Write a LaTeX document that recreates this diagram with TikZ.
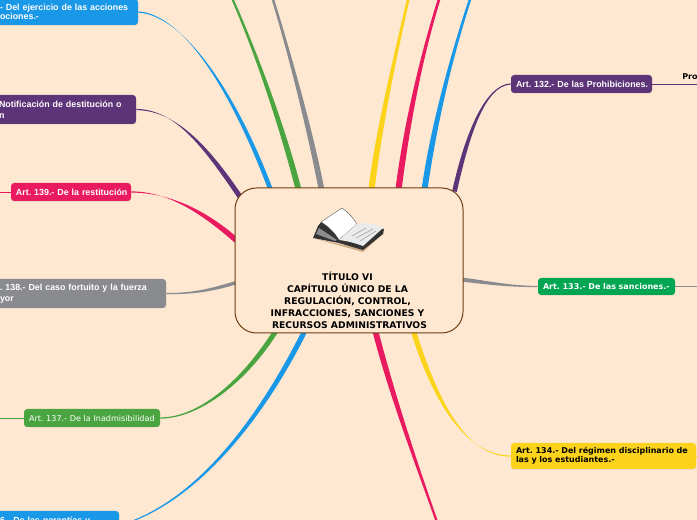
\documentclass[tikz,border=0pt]{standalone}
\usepackage{fontspec}
\setmainfont{Liberation Sans}
\newfontfamily\djfont{DejaVu Sans}
\usetikzlibrary{calc,shadows}
\definecolor{bgc}{HTML}{FEE8D1}
\definecolor{cblue}{HTML}{1A98E8}
\definecolor{cpurple}{HTML}{5E3478}
\definecolor{cpink}{HTML}{E91A5F}
\definecolor{cgray}{HTML}{8A8B8F}
\definecolor{cgreen}{HTML}{4AA540}
\definecolor{cgreenb}{HTML}{00A651}
\definecolor{cyellow}{HTML}{FBD31B}
\definecolor{cbrown}{HTML}{6B3F10}
\pgfdeclarelayer{bglayer}
\pgfdeclarelayer{connlayer}
\pgfsetlayers{bglayer,connlayer,main}
\tikzset{
  mapbox/.style={rounded corners=2.4pt,inner xsep=3.75pt,inner ysep=0pt,align=left,
    drop shadow={shadow xshift=0pt,shadow yshift=-0.5pt,opacity=.18}},
  arialtext/.style={font=\fontsize{6.65}{#1}\selectfont\bfseries\frenchspacing},
  djtext/.style={font=\fontsize{6}{#1}\djfont\bfseries\frenchspacing},
  djlight/.style={font=\fontsize{6.05}{#1}\djfont\frenchspacing},
  thinline/.style={line width=0.6pt},
  titletext/.style={font=\fontsize{6.9}{9}\djfont\bfseries,align=center,text=black,inner sep=0pt}
}
% name, left, top, right, bottom, colour, text colour, font style, text
\newcommand{\mapnode}[9]{%
  \pgfmathsetmacro{\mw}{(#4-(#2))*0.75}%
  \pgfmathsetmacro{\mh}{(#5-(#3))*0.75}%
  \pgfmathsetmacro{\mtw}{\mw-7.5}%
  \node[mapbox,fill=#6,text=#7,#8,text width=\mtw pt,minimum height=\mh pt] (#1)
    at ({(#2+#4)/2},{(#3+#5)/2}) {#9};%
}
% colour, A, c1, c2, B, half width vector at A, at B
\newcommand{\taper}[7]{%
  \begin{pgfonlayer}{connlayer}
  \fill[#1] ($#2+#6$) .. controls ($#3+#6$) and ($#4+#7$) .. ($#5+#7$)
     -- ($#5-#7$) .. controls ($#4-#7$) and ($#3-#6$) .. ($#2-#6$) -- cycle;
  \end{pgfonlayer}%
}
\begin{document}
\begin{tikzpicture}[x=0.75pt,y=-0.75pt]
\useasboundingbox (0,0) rectangle (697,520);
\begin{pgfonlayer}{bglayer}
\fill[bgc] (0,0) rectangle (697,520);
\end{pgfonlayer}
% centre
\node[draw=cbrown,fill=bgc,line width=0.75pt,rounded corners=16pt,minimum width=171pt,minimum height=108.75pt,inner sep=0pt] (c) at (349,260.5) {};
\node[titletext] (t) at (347.5,300) {TÍTULO VI\\CAPÍTULO ÚNICO DE LA\\REGULACIÓN, CONTROL,\\INFRACCIONES, SANCIONES Y\\\hspace{3pt}RECURSOS ADMINISTRATIVOS};
% book
\fill[black!15!brown!50!bgc] (316,239) -- (363,252) -- (385,232) -- (363,249) -- cycle;
\fill[black!80] (313,238) -- (318,226) -- (322,221) -- (340,238) -- (358,224) -- (384,229) -- (383,234) -- (363,250) -- (339,243) -- cycle;
\fill[black!45] (316,234) -- (319,228) -- (337,240) -- (335,241) -- cycle;
\fill[white] (321,222) -- (342,208) .. controls (349,213) and (354,219) .. (357,224) -- (339,240) .. controls (335,233) and (329,227) .. (321,222) -- cycle;
\draw[black!70,line width=0.3pt] (321,222) -- (342,208) .. controls (349,213) and (354,219) .. (357,224) -- (339,240) .. controls (335,233) and (329,227) .. (321,222) -- cycle;
\fill[white!92!black] (339,240) -- (357,224) .. controls (367,222) and (376,224) .. (383,228) -- (363,246) .. controls (355,243) and (347,241) .. (339,240) -- cycle;
\draw[black!35,line width=0.5pt] (352,236) -- (366,228) (356,238) -- (373,229) (360,241) -- (376,231);
% boxes
\mapnode{a}{-5}{-1}{138}{25}{cblue}{white}{arialtext=6.75}{- Del ejercicio de las acciones\\ociones.-}
\mapnode{b}{-6}{95}{136}{124}{cpurple}{white}{arialtext=8.25}{Notificación de destitución o\\n}
\mapnode{d}{11}{183}{131}{201}{cpink}{white}{arialtext=8.25}{\mbox{Art. 139.- De la restitución}}
\mapnode{e}{-5}{279}{166}{308}{cgray}{white}{arialtext=8.25}{. 138.- Del caso fortuito y la fuerza\\yor}
\mapnode{f}{24}{409}{160}{427}{cgreen}{white}{djlight=8.25}{\mbox{Art. 137.- De la Inadmisibilidad}}
\mapnode{g}{-5}{511}{119}{540}{cblue}{white}{arialtext=8.25}{6.- De las garantías y\\\mbox{}}
\mapnode{h}{511}{75}{652}{93}{cpurple}{white}{arialtext=8.25}{\mbox{Art. 132.- De las Prohibiciones.}}
\mapnode{i}{538}{278}{675}{295}{cgreenb}{white}{djtext=8.25}{\mbox{Art. 133.- De las sanciones.-}}
\mapnode{j}{511}{443}{696}{469}{cyellow}{black}{djtext=6.75}{Art. 134.- Del régimen disciplinario de\\las y los estudiantes.-}
\node[font=\fontsize{6}{7}\djfont\bfseries,text=black,anchor=west,inner sep=0pt] (p) at (682,77) {Prol};
% free ends
\coordinate (topa) at (232,-2);
\coordinate (topb) at (272.5,-2);
\coordinate (topc) at (408.5,-2);
\coordinate (topd) at (439.5,-2);
\coordinate (tope) at (470.5,-2);
\coordinate (botp) at (437,522);
\coordinate (rh) at (697,84);
\coordinate (ri) at (697,286.5);
\coordinate (rj) at (697,456);
\coordinate (ld) at (0,192);
\coordinate (lf) at (0,418);
% tapered connectors
\taper{cblue}{(a.east)}{(185,15)}{(235,95)}{($(c.north west)+(36,2)$)}{(0,0.6)}{(2.4,0)}
\taper{cpurple}{(b.east)}{(175,110)}{(205,145)}{($(c.north west)+(6,10)$)}{(0,0.6)}{(2.2,-1.2)}
\taper{cpink}{(d.east)}{(170,192)}{(205,213)}{($(c.west)+(2,-20)$)}{(0,0.6)}{(1.4,-2.4)}
\taper{cgray}{(e.east)}{(195,294)}{(215,289)}{($(c.west)+(2,22)$)}{(0,0.6)}{(0,1.8)}
\taper{cgreen}{(f.east)}{(200,418)}{(245,380)}{($(c.south west)+(41,-2)$)}{(0,0.6)}{(2.2,1.2)}
\taper{cblue}{(g.east)}{(190,505)}{(255,430)}{($(c.south west)+(70,-2)$)}{(0,0.6)}{(2.3,1.1)}
\taper{cgreen}{(topa)}{(255,50)}{(282,125)}{($(c.north west)+(64,2)$)}{(1.2,0)}{(3,0)}
\taper{cgray}{(topb)}{(290,55)}{(310,130)}{($(c.north west)+(87,2)$)}{(1.3,0)}{(2.9,0)}
\taper{cyellow}{(topc)}{(392,70)}{(378,135)}{($(c.north west)+(137,2)$)}{(1.4,0)}{(3.1,0)}
\taper{cpink}{(topd)}{(420,60)}{(406,130)}{($(c.north west)+(164,2)$)}{(1.4,0)}{(3.1,0)}
\taper{cblue}{(tope)}{(450,60)}{(433,130)}{($(c.north west)+(190,2)$)}{(1.3,0)}{(3,0)}
\taper{cpurple}{(h.west)}{(485,85)}{(467,135)}{($(c.north east)+(-9,4)$)}{(0,0.6)}{(2.3,0.5)}
\taper{cgray}{(i.west)}{(510,286.5)}{(490,283)}{($(c.east)+(-2,19)$)}{(0,0.6)}{(0,2)}
\taper{cyellow}{(j.west)}{(465,456)}{(435,400)}{($(c.south east)+(-50,-2)$)}{(0,0.6)}{(2.4,-0.9)}
\taper{cpink}{(botp)}{(415,460)}{(392,395)}{($(c.south west)+(141,-2)$)}{(1.2,0)}{(2.8,-0.7)}
% thin connectors
\begin{pgfonlayer}{connlayer}
\draw[thinline,cpurple] (h.east) -- (rh);
\draw[thinline,cgray] (i.east) -- (ri);
\draw[thinline,cyellow] (j.east) -- (rj);
\draw[thinline,cpink] (d.west) -- (ld);
\draw[thinline,cgreen] (f.west) -- (lf);
\end{pgfonlayer}
\end{tikzpicture}
\end{document}
